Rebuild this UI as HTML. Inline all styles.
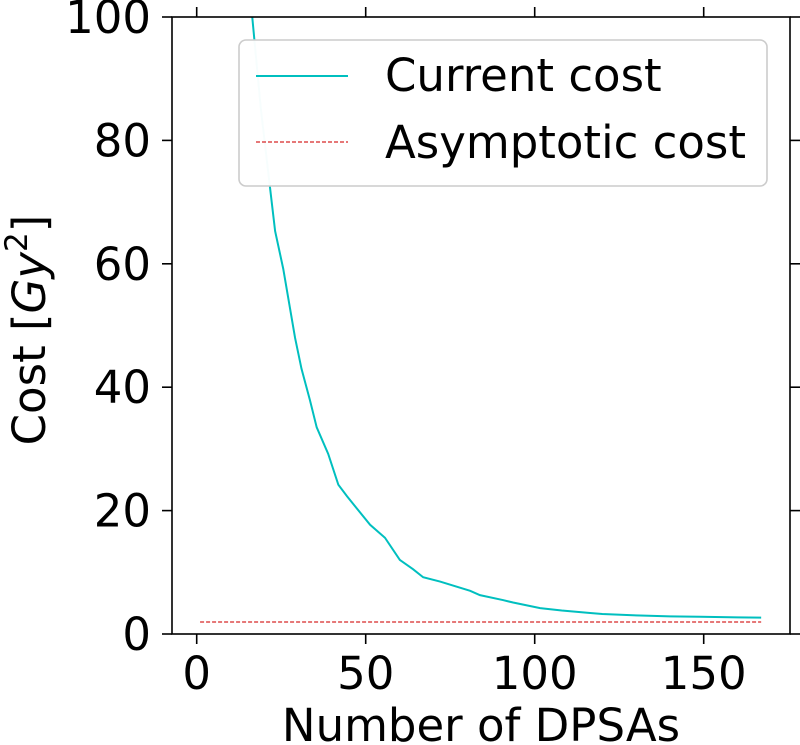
<!DOCTYPE html>
<html><head><meta charset="utf-8"><style>
html,body{margin:0;padding:0;background:#fff;}
svg{display:block;font-family:"DejaVu Sans","Liberation Sans",sans-serif;}
</style></head><body>
<svg id="chart" width="800" height="745" viewBox="0 0 800 745">
<defs><clipPath id="plotclip"><rect x="172" y="17" width="618" height="617"/></clipPath></defs>
<g id="series" clip-path="url(#plotclip)"></g>
<rect x="172" y="17" width="618" height="617" fill="none" stroke="#000" stroke-width="1.6"/>
<g id="axes"></g>
<text x="481" y="741" font-size="45" text-anchor="middle">Number of DPSAs</text>
<text transform="translate(45,330) rotate(-90)" font-size="45" text-anchor="middle">Cost [<tspan font-style="italic">Gy</tspan><tspan font-size="31" dy="-18">2</tspan><tspan dy="18">]</tspan></text>
<g>
<rect x="239" y="40" width="528" height="146" rx="7" fill="#fff" fill-opacity="0.97" stroke="#ccc" stroke-width="1.6"/>
<line x1="256" y1="76" x2="348" y2="76" stroke="#00bfbf" stroke-width="2"/>
<text x="385" y="91" font-size="45">Current cost</text>
<line x1="256" y1="142" x2="348" y2="142" stroke="#d62728" stroke-width="1.2" stroke-dasharray="4,2"/>
<text x="385" y="158" font-size="45">Asymptotic cost</text>
</g>
</svg>
<script>
const xs = [1,5,10,14,16.4,19,21.7,23.2,25.6,27.6,29.1,31,33.5,35.5,38.9,41.9,44.5,47.3,51.3,55.7,60.1,64,67,72,80.9,83.8,90.6,93.6,101.6,108,116.4,120,131.2,140,149,160,167];
const costs = [400,250,160,115,100.2,85,72.3,65.3,59.2,52.8,48,43,37.9,33.5,29.2,24.2,22.3,20.4,17.7,15.6,12,10.5,9.2,8.5,7.0,6.3,5.5,5.1,4.2,3.8,3.4,3.24,2.99,2.85,2.8,2.7,2.65];
const asymX = [1,167];
const asymY = [1.95,1.95];
const xTicks = [0,50,100,150];
const yTicks = [0,20,40,60,80,100];
const NS='http://www.w3.org/2000/svg';
const X0=196.7, XS=3.38, Y0=634, YS=6.17;
function sx(v){return X0+v*XS;}
function sy(v){return Y0-v*YS;}
const ser=document.getElementById('series');
const ax=document.getElementById('axes');
let p=document.createElementNS(NS,'polyline');
p.setAttribute('points',xs.map((x,i)=>sx(x)+','+sy(costs[i])).join(' '));
p.setAttribute('fill','none');p.setAttribute('stroke','#00bfbf');p.setAttribute('stroke-width','2');


ser.appendChild(p);
let a=document.createElementNS(NS,'polyline');
a.setAttribute('points',asymX.map((x,i)=>sx(x)+','+sy(asymY[i])).join(' '));
a.setAttribute('fill','none');a.setAttribute('stroke','#d62728');a.setAttribute('stroke-width','1.2');a.setAttribute('stroke-dasharray','4,2');


ser.appendChild(a);
function ln(x1,y1,x2,y2,name){const l=document.createElementNS(NS,'line');l.setAttribute('x1',x1);l.setAttribute('y1',y1);l.setAttribute('x2',x2);l.setAttribute('y2',y2);l.setAttribute('stroke','#000');l.setAttribute('stroke-width','1.6');


ax.appendChild(l);}
function tx(x,y,s,anchor,name){const t=document.createElementNS(NS,'text');t.setAttribute('x',x);t.setAttribute('y',y);t.setAttribute('font-size','45');t.setAttribute('text-anchor',anchor);t.textContent=s;


ax.appendChild(t);}
xTicks.forEach(v=>{const x=sx(v);ln(x,634,x,644,'x-tick');ln(x,17,x,7,'x-tick-top');tx(x,689,String(v),'middle','x-tick-label');});
yTicks.forEach(v=>{const y=sy(v);ln(172,y,162,y,'y-tick');ln(790,y,800,y,'y-tick-right');tx(151,y+16,String(v),'end','y-tick-label');});
</script>
</body></html>
